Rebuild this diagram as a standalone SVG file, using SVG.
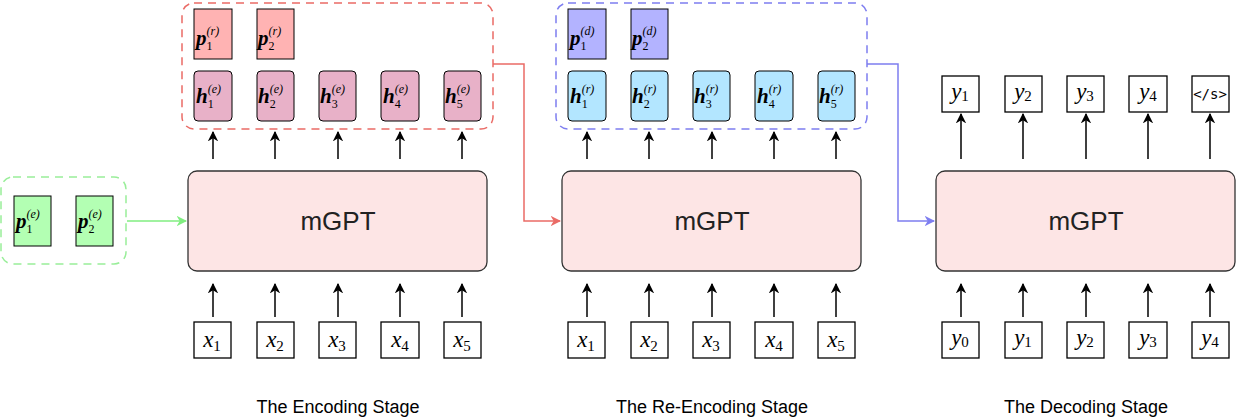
<svg xmlns="http://www.w3.org/2000/svg" width="1239" height="419" viewBox="0 0 1239 419">
<defs>
<marker id="ak" viewBox="0 0 10 10" refX="9" refY="5" markerWidth="7" markerHeight="7" orient="auto"><path d="M0,0 L10,5 L0,10 L3,5 Z" fill="#000"/></marker>
<marker id="ar" viewBox="0 0 10 10" refX="9" refY="5" markerWidth="7" markerHeight="7" orient="auto"><path d="M0,0 L10,5 L0,10 L3,5 Z" fill="#ea6b66"/></marker>
<marker id="ab" viewBox="0 0 10 10" refX="9" refY="5" markerWidth="7" markerHeight="7" orient="auto"><path d="M0,0 L10,5 L0,10 L3,5 Z" fill="#7e7ef0"/></marker>
<marker id="ag" viewBox="0 0 10 10" refX="9" refY="5" markerWidth="7" markerHeight="7" orient="auto"><path d="M0,0 L10,5 L0,10 L3,5 Z" fill="#80ee80"/></marker>
</defs>
<style>
.g{fill:#fde5e5;stroke:#333;stroke-width:1.3}
.gt{font-family:"Liberation Sans",sans-serif;font-size:26px;fill:#222;text-anchor:middle}
.bx{fill:#fff;stroke:#000;stroke-width:1.3}
.m{font-family:"Liberation Serif",serif;font-style:italic;font-size:23px;text-anchor:middle}
.v{font-family:"Liberation Serif",serif;font-style:italic;font-weight:bold;font-size:21px}
.s{font-size:12px;font-weight:normal;font-style:normal}
.u{font-size:12px;font-weight:normal;font-style:italic}
.n{font-style:normal;font-size:15px}
.lb{font-family:"Liberation Sans",sans-serif;font-size:18px;text-anchor:middle}
.c{stroke:#000;stroke-width:1.5;fill:none;marker-end:url(#ak)}
.pr{fill:#ffb3b3;stroke:#000}.he{fill:#e8b1c8;stroke:#000}.pd{fill:#b3b3ff;stroke:#000}.hr{fill:#b3e6ff;stroke:#000}.pg{fill:#b3ffb3;stroke:#000}
</style>
<g id="green"><rect x="1" y="177" width="125" height="87" rx="12" fill="none" stroke="#99ee99" stroke-width="1.5" stroke-dasharray="8,6"/>
<rect class="pg" x="14" y="196" width="37" height="50"/><text class="v" x="16" y="228">p<tspan class="s" dy="5">1</tspan><tspan class="u" dx="-6" dy="-15">(e)</tspan></text>
<rect class="pg" x="76" y="196" width="37" height="50"/><text class="v" x="78" y="228">p<tspan class="s" dy="5">2</tspan><tspan class="u" dx="-6" dy="-15">(e)</tspan></text></g>
<g id="enc-out"><rect x="182" y="3" width="311" height="126" rx="12" fill="none" stroke="#ea6b66" stroke-width="1.5" stroke-dasharray="8,6"/>
<rect class="pr" x="194" y="9" width="38" height="50"/><text class="v" x="196" y="45">p<tspan class="s" dy="5">1</tspan><tspan class="u" dx="-6" dy="-15">(r)</tspan></text>
<rect class="pr" x="257" y="9" width="37" height="50"/><text class="v" x="258" y="45">p<tspan class="s" dy="5">2</tspan><tspan class="u" dx="-6" dy="-15">(r)</tspan></text>
<rect class="he" x="194" y="71" width="38" height="50" rx="4"/><text class="v" x="196" y="103">h<tspan class="s" dy="5">1</tspan><tspan class="u" dx="-6" dy="-15">(e)</tspan></text>
<rect class="he" x="257" y="71" width="37" height="50" rx="4"/><text class="v" x="258" y="103">h<tspan class="s" dy="5">2</tspan><tspan class="u" dx="-6" dy="-15">(e)</tspan></text>
<rect class="he" x="319" y="71" width="37" height="50" rx="4"/><text class="v" x="320" y="103">h<tspan class="s" dy="5">3</tspan><tspan class="u" dx="-6" dy="-15">(e)</tspan></text>
<rect class="he" x="381" y="71" width="38" height="50" rx="4"/><text class="v" x="383" y="103">h<tspan class="s" dy="5">4</tspan><tspan class="u" dx="-6" dy="-15">(e)</tspan></text>
<rect class="he" x="444" y="71" width="37" height="50" rx="4"/><text class="v" x="445" y="103">h<tspan class="s" dy="5">5</tspan><tspan class="u" dx="-6" dy="-15">(e)</tspan></text></g>
<g id="re-out"><rect x="556" y="3" width="311" height="126" rx="12" fill="none" stroke="#7e7ef0" stroke-width="1.5" stroke-dasharray="8,6"/>
<rect class="pd" x="568" y="9" width="38" height="50"/><text class="v" x="570" y="45">p<tspan class="s" dy="5">1</tspan><tspan class="u" dx="-6" dy="-15">(d)</tspan></text>
<rect class="pd" x="631" y="9" width="37" height="50"/><text class="v" x="632" y="45">p<tspan class="s" dy="5">2</tspan><tspan class="u" dx="-6" dy="-15">(d)</tspan></text>
<rect class="hr" x="568" y="71" width="38" height="50" rx="4"/><text class="v" x="570" y="103">h<tspan class="s" dy="5">1</tspan><tspan class="u" dx="-6" dy="-15">(r)</tspan></text>
<rect class="hr" x="631" y="71" width="37" height="50" rx="4"/><text class="v" x="632" y="103">h<tspan class="s" dy="5">2</tspan><tspan class="u" dx="-6" dy="-15">(r)</tspan></text>
<rect class="hr" x="693" y="71" width="37" height="50" rx="4"/><text class="v" x="694" y="103">h<tspan class="s" dy="5">3</tspan><tspan class="u" dx="-6" dy="-15">(r)</tspan></text>
<rect class="hr" x="755" y="71" width="38" height="50" rx="4"/><text class="v" x="757" y="103">h<tspan class="s" dy="5">4</tspan><tspan class="u" dx="-6" dy="-15">(r)</tspan></text>
<rect class="hr" x="818" y="71" width="37" height="50" rx="4"/><text class="v" x="819" y="103">h<tspan class="s" dy="5">5</tspan><tspan class="u" dx="-6" dy="-15">(r)</tspan></text></g>
<g id="mgpt1"><rect class="g" x="188" y="171" width="299" height="100" rx="9"/><text class="gt" x="338" y="230">mGPT</text></g>
<g id="mgpt2"><rect class="g" x="562" y="171" width="299" height="100" rx="9"/><text class="gt" x="712" y="230">mGPT</text></g>
<g id="mgpt3"><rect class="g" x="936" y="171" width="299" height="100" rx="9"/><text class="gt" x="1086" y="230">mGPT</text></g>
<g id="inputs1">
<rect class="bx" x="194" y="322" width="37" height="36"/><text class="m" x="212" y="347">x<tspan class="n" dy="4">1</tspan></text>
<rect class="bx" x="257" y="322" width="37" height="36"/><text class="m" x="275" y="347">x<tspan class="n" dy="4">2</tspan></text>
<rect class="bx" x="319" y="322" width="37" height="36"/><text class="m" x="337" y="347">x<tspan class="n" dy="4">3</tspan></text>
<rect class="bx" x="381" y="322" width="38" height="36"/><text class="m" x="400" y="347">x<tspan class="n" dy="4">4</tspan></text>
<rect class="bx" x="444" y="322" width="37" height="36"/><text class="m" x="462" y="347">x<tspan class="n" dy="4">5</tspan></text></g>
<g id="inputs2">
<rect class="bx" x="568" y="322" width="37" height="36"/><text class="m" x="586" y="347">x<tspan class="n" dy="4">1</tspan></text>
<rect class="bx" x="631" y="322" width="37" height="36"/><text class="m" x="649" y="347">x<tspan class="n" dy="4">2</tspan></text>
<rect class="bx" x="693" y="322" width="37" height="36"/><text class="m" x="711" y="347">x<tspan class="n" dy="4">3</tspan></text>
<rect class="bx" x="755" y="322" width="38" height="36"/><text class="m" x="774" y="347">x<tspan class="n" dy="4">4</tspan></text>
<rect class="bx" x="818" y="322" width="37" height="36"/><text class="m" x="836" y="347">x<tspan class="n" dy="4">5</tspan></text></g>
<g id="inputs3">
<rect class="bx" x="942" y="322" width="37" height="36"/><text class="m" x="960" y="345">y<tspan class="n" dy="2">0</tspan></text>
<rect class="bx" x="1005" y="322" width="37" height="36"/><text class="m" x="1023" y="345">y<tspan class="n" dy="2">1</tspan></text>
<rect class="bx" x="1067" y="322" width="37" height="36"/><text class="m" x="1085" y="345">y<tspan class="n" dy="2">2</tspan></text>
<rect class="bx" x="1129" y="322" width="38" height="36"/><text class="m" x="1148" y="345">y<tspan class="n" dy="2">3</tspan></text>
<rect class="bx" x="1192" y="322" width="37" height="36"/><text class="m" x="1210" y="345">y<tspan class="n" dy="2">4</tspan></text></g>
<g id="outputs3">
<rect class="bx" x="942" y="76" width="37" height="36"/><text class="m" x="960" y="99">y<tspan class="n" dy="2">1</tspan></text>
<rect class="bx" x="1005" y="76" width="37" height="36"/><text class="m" x="1023" y="99">y<tspan class="n" dy="2">2</tspan></text>
<rect class="bx" x="1067" y="76" width="37" height="36"/><text class="m" x="1085" y="99">y<tspan class="n" dy="2">3</tspan></text>
<rect class="bx" x="1129" y="76" width="38" height="36"/><text class="m" x="1148" y="99">y<tspan class="n" dy="2">4</tspan></text>
<rect class="bx" x="1192" y="76" width="37" height="36"/><text x="1210" y="99" font-family="'DejaVu Sans Mono',monospace" font-size="14" text-anchor="middle">&lt;/s&gt;</text></g>
<g id="connectors">
<path class="c" d="M213,159V132"/><path class="c" d="M275,159V132"/><path class="c" d="M338,159V132"/><path class="c" d="M400,159V132"/><path class="c" d="M462,159V132"/>
<path class="c" d="M587,159V132"/><path class="c" d="M649,159V132"/><path class="c" d="M712,159V132"/><path class="c" d="M774,159V132"/><path class="c" d="M836,159V132"/>
<path class="c" d="M961,159V114"/><path class="c" d="M1023,159V114"/><path class="c" d="M1086,159V114"/><path class="c" d="M1148,159V114"/><path class="c" d="M1210,159V114"/>
<path class="c" d="M213,317V284"/><path class="c" d="M275,317V284"/><path class="c" d="M338,317V284"/><path class="c" d="M400,317V284"/><path class="c" d="M462,317V284"/>
<path class="c" d="M587,317V284"/><path class="c" d="M649,317V284"/><path class="c" d="M712,317V284"/><path class="c" d="M774,317V284"/><path class="c" d="M836,317V284"/>
<path class="c" d="M961,317V284"/><path class="c" d="M1023,317V284"/><path class="c" d="M1086,317V284"/><path class="c" d="M1148,317V284"/><path class="c" d="M1210,317V284"/>
<path d="M127,221H186" stroke="#80ee80" stroke-width="1.5" fill="none" marker-end="url(#ag)"/>
<path d="M493,64H524V221H560" stroke="#ea6b66" stroke-width="1.5" fill="none" marker-end="url(#ar)"/>
<path d="M867,64H898V221H934" stroke="#7e7ef0" stroke-width="1.5" fill="none" marker-end="url(#ab)"/>
</g>
<g id="labels"><text class="lb" x="338" y="413">The Encoding Stage</text><text class="lb" x="712" y="413">The Re-Encoding Stage</text><text class="lb" x="1086" y="413">The Decoding Stage</text></g>
</svg>
